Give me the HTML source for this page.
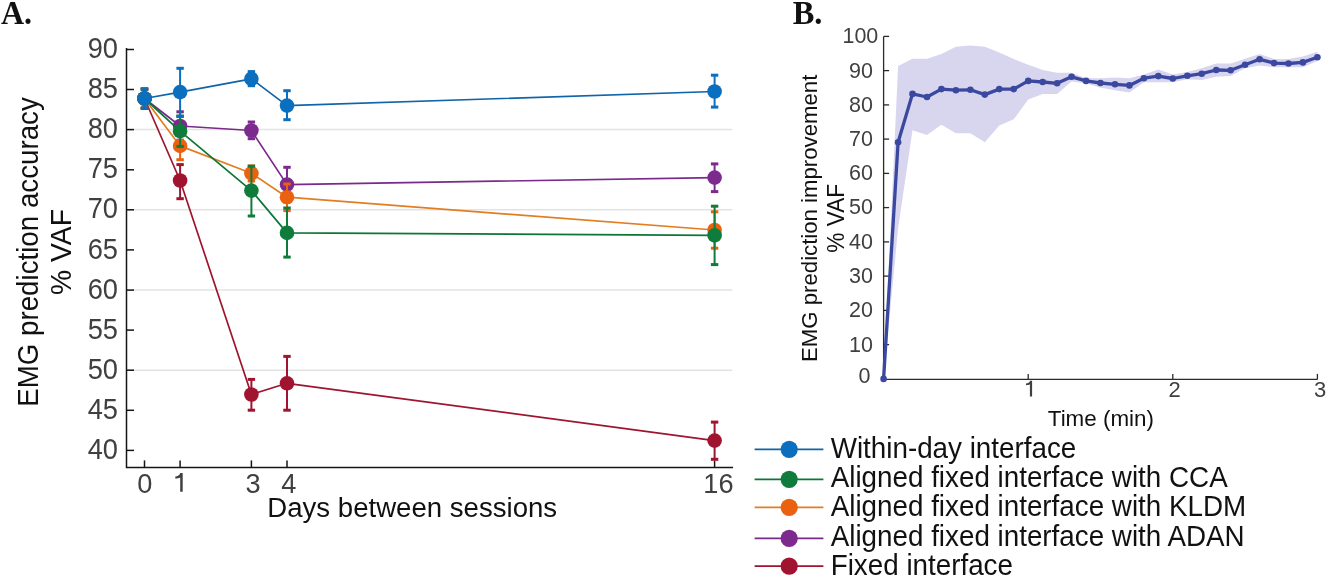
<!DOCTYPE html>
<html><head><meta charset="utf-8"><style>
html,body{margin:0;padding:0;background:#fff;width:1328px;height:578px;overflow:hidden}
svg{display:block;font-family:"Liberation Sans", sans-serif;will-change:transform}
</style></head><body>
<svg width="1328" height="578" viewBox="0 0 1328 578">
<rect width="1328" height="578" fill="#fff"/>
<line x1="127.5" y1="129.6" x2="732.3" y2="129.6" stroke="#e3e3e3" stroke-width="1.5"/>
<line x1="127.5" y1="209.8" x2="732.3" y2="209.8" stroke="#e3e3e3" stroke-width="1.5"/>
<line x1="127.5" y1="290.1" x2="732.3" y2="290.1" stroke="#e3e3e3" stroke-width="1.5"/>
<line x1="127.5" y1="370.2" x2="732.3" y2="370.2" stroke="#e3e3e3" stroke-width="1.5"/>
<path d="M126.5,48.7 V467.4 H732.3" fill="none" stroke="#151515" stroke-width="1.5" stroke-linecap="square"/>
<line x1="126.5" y1="450.4" x2="134.0" y2="450.4" stroke="#151515" stroke-width="1.5"/>
<text transform="translate(118.0,459.1) scale(1,1.06)" text-anchor="end" font-size="27.2" fill="#404040">40</text>
<line x1="126.5" y1="410.3" x2="134.0" y2="410.3" stroke="#151515" stroke-width="1.5"/>
<text transform="translate(118.0,418.9) scale(1,1.06)" text-anchor="end" font-size="27.2" fill="#404040">45</text>
<line x1="126.5" y1="370.2" x2="134.0" y2="370.2" stroke="#151515" stroke-width="1.5"/>
<text transform="translate(118.0,378.8) scale(1,1.06)" text-anchor="end" font-size="27.2" fill="#404040">50</text>
<line x1="126.5" y1="330.1" x2="134.0" y2="330.1" stroke="#151515" stroke-width="1.5"/>
<text transform="translate(118.0,338.8) scale(1,1.06)" text-anchor="end" font-size="27.2" fill="#404040">55</text>
<line x1="126.5" y1="290.1" x2="134.0" y2="290.1" stroke="#151515" stroke-width="1.5"/>
<text transform="translate(118.0,298.7) scale(1,1.06)" text-anchor="end" font-size="27.2" fill="#404040">60</text>
<line x1="126.5" y1="249.9" x2="134.0" y2="249.9" stroke="#151515" stroke-width="1.5"/>
<text transform="translate(118.0,258.6) scale(1,1.06)" text-anchor="end" font-size="27.2" fill="#404040">65</text>
<line x1="126.5" y1="209.8" x2="134.0" y2="209.8" stroke="#151515" stroke-width="1.5"/>
<text transform="translate(118.0,218.4) scale(1,1.06)" text-anchor="end" font-size="27.2" fill="#404040">70</text>
<line x1="126.5" y1="169.8" x2="134.0" y2="169.8" stroke="#151515" stroke-width="1.5"/>
<text transform="translate(118.0,178.3) scale(1,1.06)" text-anchor="end" font-size="27.2" fill="#404040">75</text>
<line x1="126.5" y1="129.6" x2="134.0" y2="129.6" stroke="#151515" stroke-width="1.5"/>
<text transform="translate(118.0,138.2) scale(1,1.06)" text-anchor="end" font-size="27.2" fill="#404040">80</text>
<line x1="126.5" y1="89.5" x2="134.0" y2="89.5" stroke="#151515" stroke-width="1.5"/>
<text transform="translate(118.0,98.1) scale(1,1.06)" text-anchor="end" font-size="27.2" fill="#404040">85</text>
<line x1="126.5" y1="49.5" x2="134.0" y2="49.5" stroke="#151515" stroke-width="1.5"/>
<text transform="translate(118.0,58.1) scale(1,1.06)" text-anchor="end" font-size="27.2" fill="#404040">90</text>
<line x1="144.5" y1="467.4" x2="144.5" y2="460.4" stroke="#151515" stroke-width="1.5"/>
<text transform="translate(144.8,492.5) scale(1,1.05)" text-anchor="middle" font-size="27.2" fill="#404040">0</text>
<line x1="180.1" y1="467.4" x2="180.1" y2="460.4" stroke="#151515" stroke-width="1.5"/>
<path d="M175.3,476.6 C177.6,476.4 179.6,475.4 180.3,473.1 L182.7,473.1 L182.7,491.8 L180.2,491.8 L180.2,477.4 C179,478.2 177.3,478.5 175.3,478.5 Z" fill="#404040"/>
<line x1="251.4" y1="467.4" x2="251.4" y2="460.4" stroke="#151515" stroke-width="1.5"/>
<text transform="translate(253.0,492.5) scale(1,1.05)" text-anchor="middle" font-size="27.2" fill="#404040">3</text>
<line x1="287.0" y1="467.4" x2="287.0" y2="460.4" stroke="#151515" stroke-width="1.5"/>
<text transform="translate(288.7,492.5) scale(1,1.05)" text-anchor="middle" font-size="27.2" fill="#404040">4</text>
<line x1="714.6" y1="467.4" x2="714.6" y2="460.4" stroke="#151515" stroke-width="1.5"/>
<text transform="translate(718.4,492.5) scale(1,1.05)" text-anchor="middle" font-size="27.2" fill="#404040">16</text>
<text transform="translate(267.3,517.4) scale(1,1.035)" font-size="27.6" fill="#111">Days between sessions</text>
<text transform="translate(38.0,252.0) rotate(-90) scale(1,1.035)" text-anchor="middle" font-size="27.73" fill="#111">EMG prediction accuracy</text>
<text transform="translate(70.9,252.0) rotate(-90) scale(1,1.035)" text-anchor="middle" font-size="28.3" fill="#111">% VAF</text>
<g><polyline points="144.5,98.5 180.1,180.5 251.4,394.5 287.0,383.3 714.6,440.6" fill="none" stroke="#9e1530" stroke-width="1.7" stroke-linejoin="round"/><line x1="144.5" y1="89.1" x2="144.5" y2="108.2" stroke="#a1142f" stroke-width="2"/><rect x="140.8" y="87.6" width="7.4" height="3" fill="#a1142f"/><rect x="140.8" y="106.7" width="7.4" height="3" fill="#a1142f"/><circle cx="144.5" cy="98.5" r="7.3" fill="#a1142f"/><line x1="180.1" y1="164.6" x2="180.1" y2="198.7" stroke="#a1142f" stroke-width="2"/><rect x="176.4" y="163.1" width="7.4" height="3" fill="#a1142f"/><rect x="176.4" y="197.2" width="7.4" height="3" fill="#a1142f"/><circle cx="180.1" cy="180.5" r="7.3" fill="#a1142f"/><line x1="251.4" y1="379.4" x2="251.4" y2="410.2" stroke="#a1142f" stroke-width="2"/><rect x="247.7" y="377.9" width="7.4" height="3" fill="#a1142f"/><rect x="247.7" y="408.7" width="7.4" height="3" fill="#a1142f"/><circle cx="251.4" cy="394.5" r="7.3" fill="#a1142f"/><line x1="287.0" y1="356.4" x2="287.0" y2="410.2" stroke="#a1142f" stroke-width="2"/><rect x="283.3" y="354.9" width="7.4" height="3" fill="#a1142f"/><rect x="283.3" y="408.7" width="7.4" height="3" fill="#a1142f"/><circle cx="287.0" cy="383.3" r="7.3" fill="#a1142f"/><line x1="714.6" y1="422.1" x2="714.6" y2="459.3" stroke="#a1142f" stroke-width="2"/><rect x="710.9" y="420.6" width="7.4" height="3" fill="#a1142f"/><rect x="710.9" y="457.8" width="7.4" height="3" fill="#a1142f"/><circle cx="714.6" cy="440.6" r="7.3" fill="#a1142f"/></g>
<g><polyline points="144.5,98.5 180.1,126.0 251.4,130.5 287.0,184.6 714.6,177.6" fill="none" stroke="#7a2a8a" stroke-width="1.7" stroke-linejoin="round"/><line x1="144.5" y1="89.1" x2="144.5" y2="108.2" stroke="#7d2a8f" stroke-width="2"/><rect x="140.8" y="87.6" width="7.4" height="3" fill="#7d2a8f"/><rect x="140.8" y="106.7" width="7.4" height="3" fill="#7d2a8f"/><circle cx="144.5" cy="98.5" r="7.3" fill="#7d2a8f"/><line x1="180.1" y1="111.8" x2="180.1" y2="140.2" stroke="#7d2a8f" stroke-width="2"/><rect x="176.4" y="110.3" width="7.4" height="3" fill="#7d2a8f"/><rect x="176.4" y="138.7" width="7.4" height="3" fill="#7d2a8f"/><circle cx="180.1" cy="126.0" r="7.3" fill="#7d2a8f"/><line x1="251.4" y1="122" x2="251.4" y2="138.7" stroke="#7d2a8f" stroke-width="2"/><rect x="247.7" y="120.5" width="7.4" height="3" fill="#7d2a8f"/><rect x="247.7" y="137.2" width="7.4" height="3" fill="#7d2a8f"/><circle cx="251.4" cy="130.5" r="7.3" fill="#7d2a8f"/><line x1="287.0" y1="167.3" x2="287.0" y2="202" stroke="#7d2a8f" stroke-width="2"/><rect x="283.3" y="165.8" width="7.4" height="3" fill="#7d2a8f"/><rect x="283.3" y="200.5" width="7.4" height="3" fill="#7d2a8f"/><circle cx="287.0" cy="184.6" r="7.3" fill="#7d2a8f"/><line x1="714.6" y1="163.9" x2="714.6" y2="191.6" stroke="#7d2a8f" stroke-width="2"/><rect x="710.9" y="162.4" width="7.4" height="3" fill="#7d2a8f"/><rect x="710.9" y="190.1" width="7.4" height="3" fill="#7d2a8f"/><circle cx="714.6" cy="177.6" r="7.3" fill="#7d2a8f"/></g>
<g><polyline points="144.5,98.5 180.1,145.9 251.4,173.3 287.0,197.2 714.6,230.0" fill="none" stroke="#e27d22" stroke-width="1.7" stroke-linejoin="round"/><line x1="144.5" y1="89.1" x2="144.5" y2="108.2" stroke="#ea610f" stroke-width="2"/><rect x="140.8" y="87.6" width="7.4" height="3" fill="#ea610f"/><rect x="140.8" y="106.7" width="7.4" height="3" fill="#ea610f"/><circle cx="144.5" cy="98.5" r="7.3" fill="#ea610f"/><line x1="180.1" y1="132" x2="180.1" y2="159.7" stroke="#ea610f" stroke-width="2"/><rect x="176.4" y="130.5" width="7.4" height="3" fill="#ea610f"/><rect x="176.4" y="158.2" width="7.4" height="3" fill="#ea610f"/><circle cx="180.1" cy="145.9" r="7.3" fill="#ea610f"/><line x1="251.4" y1="166" x2="251.4" y2="181" stroke="#ea610f" stroke-width="2"/><rect x="247.7" y="164.5" width="7.4" height="3" fill="#ea610f"/><rect x="247.7" y="179.5" width="7.4" height="3" fill="#ea610f"/><circle cx="251.4" cy="173.3" r="7.3" fill="#ea610f"/><line x1="287.0" y1="184" x2="287.0" y2="210.6" stroke="#ea610f" stroke-width="2"/><rect x="283.3" y="182.5" width="7.4" height="3" fill="#ea610f"/><rect x="283.3" y="209.1" width="7.4" height="3" fill="#ea610f"/><circle cx="287.0" cy="197.2" r="7.3" fill="#ea610f"/><line x1="714.6" y1="211.8" x2="714.6" y2="248.2" stroke="#ea610f" stroke-width="2"/><rect x="710.9" y="210.3" width="7.4" height="3" fill="#ea610f"/><rect x="710.9" y="246.7" width="7.4" height="3" fill="#ea610f"/><circle cx="714.6" cy="230.0" r="7.3" fill="#ea610f"/></g>
<g><polyline points="144.5,98.5 180.1,131.2 251.4,190.6 287.0,232.9 714.6,235.4" fill="none" stroke="#0c7636" stroke-width="1.7" stroke-linejoin="round"/><line x1="144.5" y1="89.1" x2="144.5" y2="108.2" stroke="#0f7c3b" stroke-width="2"/><rect x="140.8" y="87.6" width="7.4" height="3" fill="#0f7c3b"/><rect x="140.8" y="106.7" width="7.4" height="3" fill="#0f7c3b"/><circle cx="144.5" cy="98.5" r="7.3" fill="#0f7c3b"/><line x1="180.1" y1="116" x2="180.1" y2="146.4" stroke="#0f7c3b" stroke-width="2"/><rect x="176.4" y="114.5" width="7.4" height="3" fill="#0f7c3b"/><rect x="176.4" y="144.9" width="7.4" height="3" fill="#0f7c3b"/><circle cx="180.1" cy="131.2" r="7.3" fill="#0f7c3b"/><line x1="251.4" y1="166.2" x2="251.4" y2="216" stroke="#0f7c3b" stroke-width="2"/><rect x="247.7" y="164.7" width="7.4" height="3" fill="#0f7c3b"/><rect x="247.7" y="214.5" width="7.4" height="3" fill="#0f7c3b"/><circle cx="251.4" cy="190.6" r="7.3" fill="#0f7c3b"/><line x1="287.0" y1="208" x2="287.0" y2="257.1" stroke="#0f7c3b" stroke-width="2"/><rect x="283.3" y="206.5" width="7.4" height="3" fill="#0f7c3b"/><rect x="283.3" y="255.6" width="7.4" height="3" fill="#0f7c3b"/><circle cx="287.0" cy="232.9" r="7.3" fill="#0f7c3b"/><line x1="714.6" y1="206.2" x2="714.6" y2="264.6" stroke="#0f7c3b" stroke-width="2"/><rect x="710.9" y="204.7" width="7.4" height="3" fill="#0f7c3b"/><rect x="710.9" y="263.1" width="7.4" height="3" fill="#0f7c3b"/><circle cx="714.6" cy="235.4" r="7.3" fill="#0f7c3b"/></g>
<g><polyline points="144.5,98.5 180.1,92.1 251.4,78.8 287.0,105.6 714.6,91.5" fill="none" stroke="#1064a8" stroke-width="1.7" stroke-linejoin="round"/><line x1="144.5" y1="89.1" x2="144.5" y2="108.2" stroke="#0b6fbf" stroke-width="2"/><rect x="140.8" y="87.6" width="7.4" height="3" fill="#0b6fbf"/><rect x="140.8" y="106.7" width="7.4" height="3" fill="#0b6fbf"/><circle cx="144.5" cy="98.5" r="7.3" fill="#0b6fbf"/><line x1="180.1" y1="68.3" x2="180.1" y2="116.5" stroke="#0b6fbf" stroke-width="2"/><rect x="176.4" y="66.8" width="7.4" height="3" fill="#0b6fbf"/><rect x="176.4" y="115.0" width="7.4" height="3" fill="#0b6fbf"/><circle cx="180.1" cy="92.1" r="7.3" fill="#0b6fbf"/><line x1="251.4" y1="71.6" x2="251.4" y2="85.7" stroke="#0b6fbf" stroke-width="2"/><rect x="247.7" y="70.1" width="7.4" height="3" fill="#0b6fbf"/><rect x="247.7" y="84.2" width="7.4" height="3" fill="#0b6fbf"/><circle cx="251.4" cy="78.8" r="7.3" fill="#0b6fbf"/><line x1="287.0" y1="90.7" x2="287.0" y2="119.7" stroke="#0b6fbf" stroke-width="2"/><rect x="283.3" y="89.2" width="7.4" height="3" fill="#0b6fbf"/><rect x="283.3" y="118.2" width="7.4" height="3" fill="#0b6fbf"/><circle cx="287.0" cy="105.6" r="7.3" fill="#0b6fbf"/><line x1="714.6" y1="75.2" x2="714.6" y2="107.1" stroke="#0b6fbf" stroke-width="2"/><rect x="710.9" y="73.7" width="7.4" height="3" fill="#0b6fbf"/><rect x="710.9" y="105.6" width="7.4" height="3" fill="#0b6fbf"/><circle cx="714.6" cy="91.5" r="7.3" fill="#0b6fbf"/></g>
<line x1="754.6" y1="449.3" x2="823.4" y2="449.3" stroke="#1064a8" stroke-width="1.8"/>
<circle cx="789.2" cy="449.3" r="8.6" fill="#0b6fbf"/>
<text transform="translate(830.7,458.0) scale(1,1.035)" font-size="27.8" fill="#111">Within-day interface</text>
<line x1="754.6" y1="479.3" x2="823.4" y2="479.3" stroke="#0c7636" stroke-width="1.8"/>
<circle cx="789.2" cy="479.3" r="8.6" fill="#0f7c3b"/>
<text transform="translate(830.7,487.4) scale(1,1.035)" font-size="27.8" fill="#111">Aligned fixed interface with CCA</text>
<line x1="754.6" y1="507.3" x2="823.4" y2="507.3" stroke="#e27d22" stroke-width="1.8"/>
<circle cx="789.2" cy="507.3" r="8.6" fill="#ea610f"/>
<text transform="translate(830.7,516.4) scale(1,1.035)" font-size="27.8" fill="#111">Aligned fixed interface with KLDM</text>
<line x1="754.6" y1="538.4" x2="823.4" y2="538.4" stroke="#7a2a8a" stroke-width="1.8"/>
<circle cx="789.2" cy="538.4" r="8.6" fill="#7d2a8f"/>
<text transform="translate(830.7,545.9) scale(1,1.035)" font-size="27.8" fill="#111">Aligned fixed interface with ADAN</text>
<line x1="754.6" y1="566.2" x2="823.4" y2="566.2" stroke="#9e1530" stroke-width="1.8"/>
<circle cx="789.2" cy="566.2" r="8.6" fill="#a1142f"/>
<text transform="translate(830.7,574.9) scale(1,1.035)" font-size="27.8" fill="#111">Fixed interface</text>
<polygon points="883.6,378.9 898.1,65.9 912.5,58.7 927.0,58.7 941.4,53.9 955.9,46.7 970.4,45.6 984.8,46.7 999.3,52.5 1013.7,59.0 1028.2,64.8 1042.7,70.0 1057.1,72.7 1071.6,72.7 1086.0,78.2 1100.5,78.2 1115.0,77.5 1129.4,78.2 1143.9,74.4 1158.3,69.6 1172.8,74.4 1187.3,72.0 1201.7,68.3 1216.2,63.5 1230.6,63.5 1245.1,58.7 1259.6,53.9 1274.0,59.0 1288.5,59.0 1302.9,56.6 1317.4,51.8 1317.4,61.1 1302.9,67.2 1288.5,67.2 1274.0,67.2 1259.6,65.5 1245.1,68.3 1230.6,76.1 1216.2,76.8 1201.7,79.9 1187.3,79.2 1172.8,82.3 1158.3,82.3 1143.9,82.3 1129.4,92.6 1115.0,90.2 1100.5,87.8 1086.0,83.3 1071.6,81.6 1057.1,93.9 1042.7,93.9 1028.2,99.4 1013.7,119.3 999.3,125.4 984.8,142.2 970.4,133.3 955.9,133.3 941.4,124.8 927.0,135.0 912.5,130.2 898.1,228.2 883.6,378.9" fill="#d8d5ee"/>
<path d="M883.6,36.4 V379.4 H1317.5" fill="none" stroke="#2a2a2a" stroke-width="1.3"/>
<text transform="translate(870.5,382.5) scale(1,1.06)" text-anchor="end" font-size="21.5" fill="#404040">0</text>
<line x1="883.6" y1="344.6" x2="889.1" y2="344.6" stroke="#2a2a2a" stroke-width="1.3"/>
<text transform="translate(872.9,351.6) scale(1,1.06)" text-anchor="end" font-size="21.5" fill="#404040">10</text>
<line x1="883.6" y1="310.4" x2="889.1" y2="310.4" stroke="#2a2a2a" stroke-width="1.3"/>
<text transform="translate(872.9,317.4) scale(1,1.06)" text-anchor="end" font-size="21.5" fill="#404040">20</text>
<line x1="883.6" y1="276.1" x2="889.1" y2="276.1" stroke="#2a2a2a" stroke-width="1.3"/>
<text transform="translate(872.9,283.3) scale(1,1.06)" text-anchor="end" font-size="21.5" fill="#404040">30</text>
<line x1="883.6" y1="241.9" x2="889.1" y2="241.9" stroke="#2a2a2a" stroke-width="1.3"/>
<text transform="translate(872.9,248.9) scale(1,1.06)" text-anchor="end" font-size="21.5" fill="#404040">40</text>
<line x1="883.6" y1="207.6" x2="889.1" y2="207.6" stroke="#2a2a2a" stroke-width="1.3"/>
<text transform="translate(872.9,214.0) scale(1,1.06)" text-anchor="end" font-size="21.5" fill="#404040">50</text>
<line x1="883.6" y1="173.4" x2="889.1" y2="173.4" stroke="#2a2a2a" stroke-width="1.3"/>
<text transform="translate(872.9,180.0) scale(1,1.06)" text-anchor="end" font-size="21.5" fill="#404040">60</text>
<line x1="883.6" y1="139.1" x2="889.1" y2="139.1" stroke="#2a2a2a" stroke-width="1.3"/>
<text transform="translate(872.9,145.8) scale(1,1.06)" text-anchor="end" font-size="21.5" fill="#404040">70</text>
<line x1="883.6" y1="104.9" x2="889.1" y2="104.9" stroke="#2a2a2a" stroke-width="1.3"/>
<text transform="translate(872.9,111.6) scale(1,1.06)" text-anchor="end" font-size="21.5" fill="#404040">80</text>
<line x1="883.6" y1="70.6" x2="889.1" y2="70.6" stroke="#2a2a2a" stroke-width="1.3"/>
<text transform="translate(872.9,77.5) scale(1,1.06)" text-anchor="end" font-size="21.5" fill="#404040">90</text>
<line x1="883.6" y1="36.4" x2="889.1" y2="36.4" stroke="#2a2a2a" stroke-width="1.3"/>
<text transform="translate(878.3,43.4) scale(1,1.06)" text-anchor="end" font-size="21.5" fill="#404040">100</text>
<line x1="1028.2" y1="379.4" x2="1028.2" y2="373.9" stroke="#2a2a2a" stroke-width="1.3"/>
<path d="M1026,383.6 C1028,383.4 1029.6,382.6 1030.0,380.8 L1032.1,380.8 L1032.1,396.5 L1029.9,396.5 L1029.9,384.3 C1028.9,385 1027.6,385.2 1026,385.2 Z" fill="#404040"/>
<line x1="1172.8" y1="379.4" x2="1172.8" y2="373.9" stroke="#2a2a2a" stroke-width="1.3"/>
<text transform="translate(1174.5,396.8) scale(1,1.02)" text-anchor="middle" font-size="22" fill="#404040">2</text>
<line x1="1317.4" y1="379.4" x2="1317.4" y2="373.9" stroke="#2a2a2a" stroke-width="1.3"/>
<text transform="translate(1320.0,396.8) scale(1,1.02)" text-anchor="middle" font-size="22" fill="#404040">3</text>
<text transform="translate(1047.8,425.6) scale(1,1.0)" font-size="22.4" fill="#111">Time (min)</text>
<text transform="translate(816.8,218.3) rotate(-90) scale(1,1.035)" text-anchor="middle" font-size="22.2" fill="#111">EMG prediction improvement</text>
<text transform="translate(843.8,218.3) rotate(-90) scale(1,1.035)" text-anchor="middle" font-size="22.65" fill="#111">% VAF</text>
<polyline points="883.6,378.9 898.1,142.2 912.5,93.9 927.0,97.0 941.4,89.1 955.9,90.2 970.4,89.8 984.8,94.6 999.3,89.1 1013.7,89.1 1028.2,80.9 1042.7,82.0 1057.1,83.3 1071.6,76.8 1086.0,80.9 1100.5,83.0 1115.0,84.3 1129.4,85.4 1143.9,78.2 1158.3,76.1 1172.8,78.5 1187.3,75.8 1201.7,73.7 1216.2,70.0 1230.6,70.3 1245.1,64.8 1259.6,59.3 1274.0,63.1 1288.5,63.5 1302.9,62.4 1317.4,57.3" fill="none" stroke="#3a48a0" stroke-width="3.3" stroke-linejoin="round"/>
<circle cx="883.6" cy="378.9" r="3.3" fill="#3a48a0"/>
<circle cx="898.1" cy="142.2" r="3.3" fill="#3a48a0"/>
<circle cx="912.5" cy="93.9" r="3.3" fill="#3a48a0"/>
<circle cx="927.0" cy="97.0" r="3.3" fill="#3a48a0"/>
<circle cx="941.4" cy="89.1" r="3.3" fill="#3a48a0"/>
<circle cx="955.9" cy="90.2" r="3.3" fill="#3a48a0"/>
<circle cx="970.4" cy="89.8" r="3.3" fill="#3a48a0"/>
<circle cx="984.8" cy="94.6" r="3.3" fill="#3a48a0"/>
<circle cx="999.3" cy="89.1" r="3.3" fill="#3a48a0"/>
<circle cx="1013.7" cy="89.1" r="3.3" fill="#3a48a0"/>
<circle cx="1028.2" cy="80.9" r="3.3" fill="#3a48a0"/>
<circle cx="1042.7" cy="82.0" r="3.3" fill="#3a48a0"/>
<circle cx="1057.1" cy="83.3" r="3.3" fill="#3a48a0"/>
<circle cx="1071.6" cy="76.8" r="3.3" fill="#3a48a0"/>
<circle cx="1086.0" cy="80.9" r="3.3" fill="#3a48a0"/>
<circle cx="1100.5" cy="83.0" r="3.3" fill="#3a48a0"/>
<circle cx="1115.0" cy="84.3" r="3.3" fill="#3a48a0"/>
<circle cx="1129.4" cy="85.4" r="3.3" fill="#3a48a0"/>
<circle cx="1143.9" cy="78.2" r="3.3" fill="#3a48a0"/>
<circle cx="1158.3" cy="76.1" r="3.3" fill="#3a48a0"/>
<circle cx="1172.8" cy="78.5" r="3.3" fill="#3a48a0"/>
<circle cx="1187.3" cy="75.8" r="3.3" fill="#3a48a0"/>
<circle cx="1201.7" cy="73.7" r="3.3" fill="#3a48a0"/>
<circle cx="1216.2" cy="70.0" r="3.3" fill="#3a48a0"/>
<circle cx="1230.6" cy="70.3" r="3.3" fill="#3a48a0"/>
<circle cx="1245.1" cy="64.8" r="3.3" fill="#3a48a0"/>
<circle cx="1259.6" cy="59.3" r="3.3" fill="#3a48a0"/>
<circle cx="1274.0" cy="63.1" r="3.3" fill="#3a48a0"/>
<circle cx="1288.5" cy="63.5" r="3.3" fill="#3a48a0"/>
<circle cx="1302.9" cy="62.4" r="3.3" fill="#3a48a0"/>
<circle cx="1317.4" cy="57.3" r="3.3" fill="#3a48a0"/>
<text transform="translate(0.9,23.9) scale(0.97,1.04)" font-family="'Liberation Serif', serif" font-weight="bold" font-size="33" fill="#111">A.</text>
<text transform="translate(792.7,24.2) scale(0.985,1.05)" font-family="'Liberation Serif', serif" font-weight="bold" font-size="33" fill="#111">B.</text>
</svg></body></html>
